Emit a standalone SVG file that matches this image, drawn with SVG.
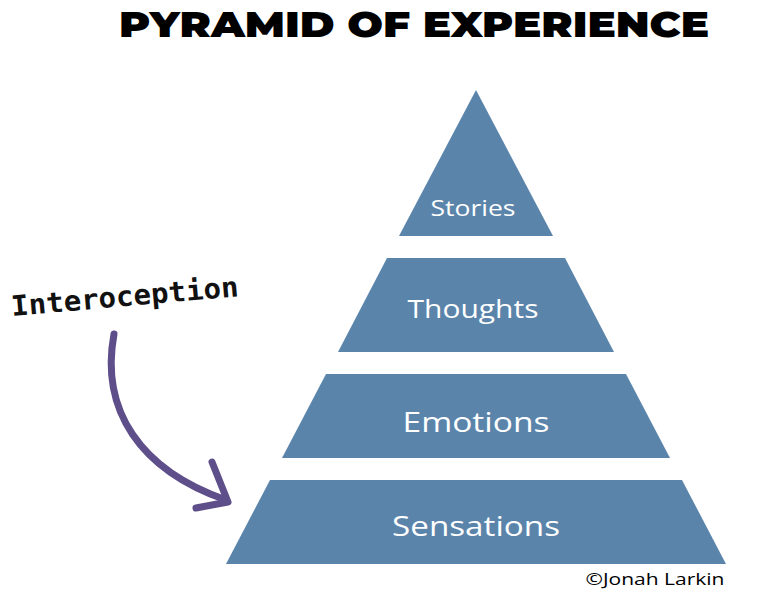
<svg xmlns="http://www.w3.org/2000/svg" width="768" height="600" viewBox="0 0 768 600">
<style>
.tier{fill:#5b84ab}
.lbl{font-family:"Open Sans","Liberation Sans",sans-serif;fill:#fff;text-anchor:middle}
</style>
<rect width="768" height="600" fill="#fff"/>
<text x="414" y="37" font-family="Montserrat,'Liberation Sans',sans-serif" font-weight="900" font-size="35" text-anchor="middle" fill="#000" textLength="590" lengthAdjust="spacingAndGlyphs">PYRAMID OF EXPERIENCE</text>
<g id="stories"><polygon class="tier" points="476,90 553,236 399,236"/><text class="lbl" x="473" y="216" font-size="22" textLength="85" lengthAdjust="spacingAndGlyphs">Stories</text></g>
<g id="thoughts"><polygon class="tier" points="387,258 565,258 614,352 338,352"/><text class="lbl" x="473" y="318" font-size="25" textLength="131" lengthAdjust="spacingAndGlyphs">Thoughts</text></g>
<g id="emotions"><polygon class="tier" points="326,374 626,374 670,458 282,458"/><text class="lbl" x="476" y="432" font-size="28" textLength="147" lengthAdjust="spacingAndGlyphs">Emotions</text></g>
<g id="sensations"><polygon class="tier" points="270,480 682,480 726,564 226,564"/><text class="lbl" x="476" y="536" font-size="28" textLength="168" lengthAdjust="spacingAndGlyphs">Sensations</text></g>
<g id="interoception"><text x="12" y="316" font-family="'DejaVu Sans Mono',monospace" font-weight="bold" font-size="28" fill="#111" transform="rotate(-5 12 316)" textLength="228" lengthAdjust="spacingAndGlyphs">Interoception</text></g>
<g id="connectors" fill="none" stroke="#5e4e8a" stroke-width="7" stroke-linecap="round" stroke-linejoin="round">
<path d="M114,334 C100,410 140,470 226,500"/>
<path d="M212,462 L228,502 L196,508"/>
</g>
<text x="655" y="585" font-family="'Open Sans','Liberation Sans',sans-serif" font-size="17" text-anchor="middle" fill="#000" textLength="139" lengthAdjust="spacingAndGlyphs">©Jonah Larkin</text>
</svg>
